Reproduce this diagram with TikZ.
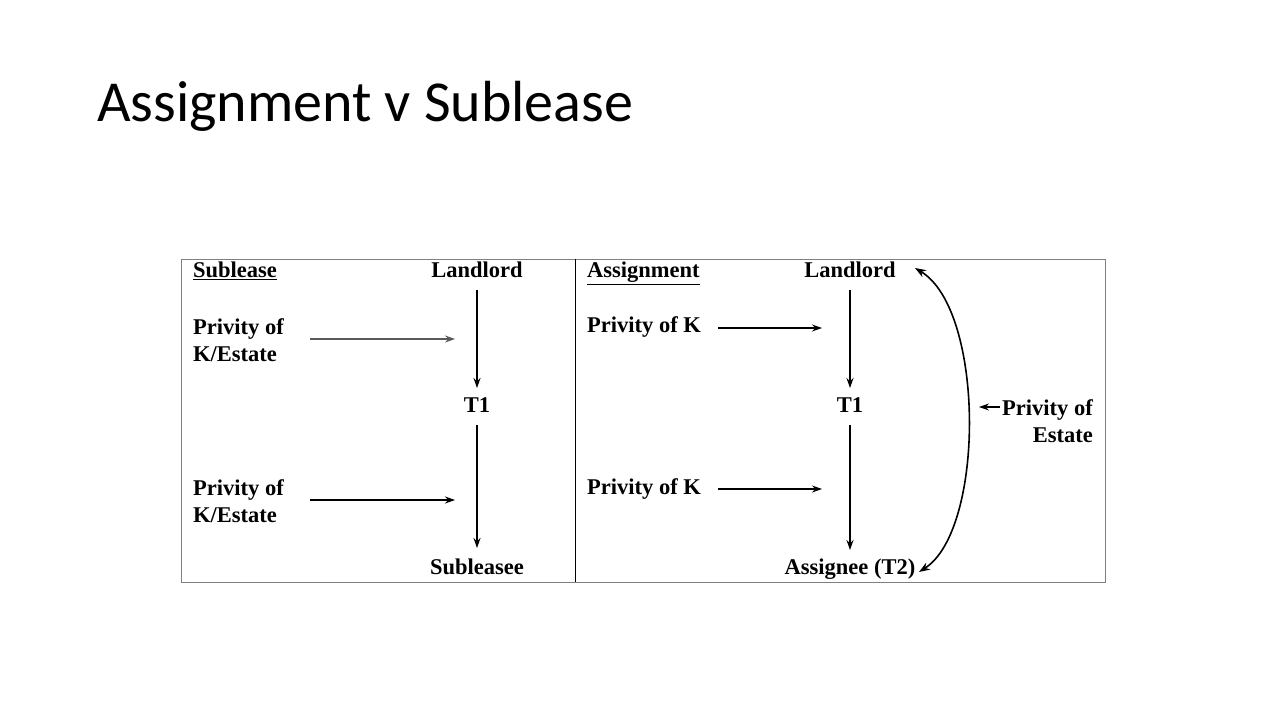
\documentclass[tikz,border=0pt]{standalone}
\usepackage{fontspec}
\setmainfont{Liberation Serif}
\newfontfamily\titlefont{Carlito}
\usetikzlibrary{arrows.meta}
\begin{document}
\begin{tikzpicture}[x=1pt,y=-1pt,
  lbl/.style={font=\bfseries\fontsize{22.5}{27}\selectfont, inner sep=0pt},
  one/.style={text height=16pt, text depth=5pt},
  arr/.style={-{Stealth[length=10pt,width=7pt]}, line width=1.3pt},
  harr/.style={-{Stealth[length=10pt,width=7pt]}, line width=1.1pt}]
\useasboundingbox (0,0) rectangle (1280,720);
\node[anchor=west, inner sep=0pt, font=\titlefont\fontsize{58}{62}\selectfont] (title) at (97,106) {Assignment v Sublease};
\draw[gray, line width=1pt] (181,259) rectangle (1105,582);
\draw[line width=1pt] (575,259) -- (575,582);
% left
\node[lbl, one, anchor=west] (sl) at (193,272) {\underline{Sublease}};
\node[lbl, one] (ll1) at (477,272) {Landlord};
\node[lbl, one] (t11) at (477,407) {T1};
\node[lbl, one] (sub) at (477,569) {Subleasee};
\node[lbl, anchor=west, align=left] (p1) at (193,340) {Privity of\\K/Estate};
\node[lbl, anchor=west, align=left] (p2) at (193,501) {Privity of\\K/Estate};
\draw[arr] (477,290) -- (477,388);
\draw[arr] (477,425) -- (477,548);
\coordinate (e1) at (455,339); \coordinate (e2) at (455,500);
\draw[harr, gray!70!black] (310,339) -- (e1);
\draw[harr] (310,500) -- (e2);
% right
\node[lbl, one, anchor=west] (as) at (587,272) {\underline{Assignment}};
\node[lbl, one] (ll2) at (850,272) {Landlord};
\node[lbl, one] (t12) at (850,407) {T1};
\node[lbl, one] (asg) at (850,569) {Assignee (T2)};
\node[lbl, one, anchor=west] (k1) at (587,327) {Privity of K};
\node[lbl, one, anchor=west] (k2) at (587,489) {Privity of K};
\draw[arr] (850,290) -- (850,388);
\draw[arr] (850,425) -- (850,550);
\coordinate (f1) at (822,328); \coordinate (f2) at (822,489);
\draw[harr] (718,328) -- (f1);
\draw[harr] (718,489) -- (f2);
\coordinate (c1) at (915,268); \coordinate (c2) at (919,572);
\draw[{Stealth[length=11pt,width=8pt]}-{Stealth[length=11pt,width=8pt]}, line width=1.6pt]
  (c1) .. controls (985,310) and (985,530) .. (c2);
\node[lbl, anchor=east, align=right] (pe) at (1093,421) {Privity of\\Estate};
\draw[harr] (1000,407) -- (979,407);
\end{tikzpicture}
\end{document}
